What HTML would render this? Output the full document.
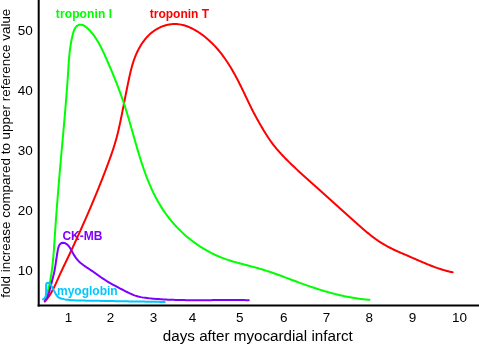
<!DOCTYPE html>
<html><head><meta charset="utf-8"><style>
html,body{margin:0;padding:0;background:#fff;}
body{width:479px;height:345px;overflow:hidden;}
svg{display:block;}
text{font-family:"Liberation Sans", Arial, Helvetica, sans-serif;}
</style></head><body>
<svg width="479" height="345" viewBox="0 0 479 345">
<rect width="479" height="345" fill="#fff"/>
<g font-size="13.5" fill="#000">
<text x="68.4" y="322" text-anchor="middle">1</text>
<text x="110.5" y="322" text-anchor="middle">2</text>
<text x="153.5" y="322" text-anchor="middle">3</text>
<text x="192.5" y="322" text-anchor="middle">4</text>
<text x="239.8" y="322" text-anchor="middle">5</text>
<text x="283.7" y="322" text-anchor="middle">6</text>
<text x="326.5" y="322" text-anchor="middle">7</text>
<text x="369.2" y="322" text-anchor="middle">8</text>
<text x="412.5" y="322" text-anchor="middle">9</text>
<text x="459.5" y="322" text-anchor="middle">10</text>
<text x="32.8" y="34.7" text-anchor="end">50</text>
<text x="32.8" y="94.8" text-anchor="end">40</text>
<text x="32.8" y="154.8" text-anchor="end">30</text>
<text x="32.8" y="214.8" text-anchor="end">20</text>
<text x="32.8" y="274.8" text-anchor="end">10</text>
</g>
<text x="257.8" y="341" font-size="15.2" text-anchor="middle">days after myocardial infarct</text>
<text transform="translate(9.7 153.2) rotate(-90)" font-size="13.45" text-anchor="middle">fold increase compared to upper reference value</text>
<g font-size="12" font-weight="bold">
<text x="55.8" y="18.2" fill="#00ff00" letter-spacing="0.12">troponin I</text>
<text x="149.8" y="18.2" fill="#ff0000">troponin T</text>
<text x="62.4" y="239.5" fill="#8000ff">CK-MB</text>
<text x="57" y="294.8" fill="#00c8ff">myoglobin</text>
</g>
<g fill="none" stroke-width="2" stroke-linecap="round" stroke-linejoin="round">
<path d="M44.88 301.47 L45.87 300.35 L46.82 299.20 L47.72 298.03 L48.59 296.83 L49.42 295.61 L50.22 294.36 L50.99 293.10 L51.73 291.81 L52.44 290.51 L53.14 289.19 L53.81 287.86 L54.47 286.52 L55.11 285.17 L55.74 283.81 L56.36 282.44 L56.98 281.07 L57.59 279.69 L58.20 278.32 L58.81 276.94 L59.42 275.57 L60.04 274.20 L60.67 272.83 L61.30 271.47 L61.94 270.11 L62.58 268.75 L63.22 267.40 L63.87 266.05 L64.52 264.70 L65.17 263.35 L65.82 262.00 L66.47 260.65 L67.12 259.30 L67.77 257.95 L68.41 256.59 L69.05 255.24 L69.70 253.89 L70.33 252.53 L70.97 251.18 L71.60 249.82 L72.24 248.46 L72.87 247.11 L73.49 245.75 L74.12 244.39 L74.75 243.03 L75.37 241.66 L75.99 240.30 L76.61 238.94 L77.23 237.58 L77.85 236.21 L78.47 234.85 L79.09 233.48 L79.70 232.12 L80.32 230.75 L80.93 229.38 L81.54 228.01 L82.15 226.64 L82.76 225.27 L83.37 223.90 L83.98 222.53 L84.58 221.16 L85.19 219.79 L85.79 218.42 L86.39 217.04 L86.99 215.67 L87.58 214.29 L88.18 212.92 L88.77 211.54 L89.37 210.16 L89.96 208.79 L90.55 207.41 L91.13 206.03 L91.72 204.65 L92.30 203.26 L92.89 201.88 L93.47 200.50 L94.04 199.12 L94.62 197.73 L95.20 196.35 L95.77 194.96 L96.34 193.57 L96.91 192.19 L97.47 190.80 L98.04 189.41 L98.60 188.02 L99.16 186.63 L99.72 185.23 L100.28 183.84 L100.83 182.45 L101.38 181.05 L101.93 179.66 L102.48 178.26 L103.02 176.87 L103.57 175.47 L104.11 174.07 L104.65 172.67 L105.18 171.27 L105.71 169.87 L106.24 168.46 L106.77 167.06 L107.30 165.66 L107.82 164.25 L108.34 162.85 L108.86 161.44 L109.37 160.03 L109.88 158.62 L110.39 157.21 L110.89 155.80 L111.38 154.38 L111.87 152.97 L112.35 151.55 L112.83 150.13 L113.30 148.71 L113.76 147.28 L114.21 145.86 L114.65 144.43 L115.09 143.00 L115.51 141.56 L115.93 140.13 L116.33 138.69 L116.73 137.25 L117.11 135.80 L117.48 134.36 L117.84 132.91 L118.19 131.45 L118.53 130.00 L118.87 128.54 L119.19 127.08 L119.51 125.62 L119.83 124.16 L120.14 122.69 L120.45 121.22 L120.75 119.76 L121.05 118.29 L121.35 116.81 L121.65 115.34 L121.94 113.87 L122.24 112.39 L122.53 110.92 L122.82 109.44 L123.11 107.96 L123.41 106.49 L123.70 105.01 L123.99 103.53 L124.28 102.05 L124.57 100.57 L124.86 99.10 L125.15 97.62 L125.44 96.14 L125.73 94.67 L126.02 93.19 L126.32 91.72 L126.61 90.25 L126.91 88.78 L127.21 87.31 L127.51 85.84 L127.81 84.37 L128.11 82.91 L128.42 81.45 L128.73 79.99 L129.04 78.54 L129.35 77.08 L129.67 75.63 L130.00 74.18 L130.34 72.74 L130.68 71.30 L131.04 69.86 L131.41 68.43 L131.79 66.99 L132.20 65.57 L132.61 64.14 L133.05 62.72 L133.51 61.31 L133.99 59.89 L134.50 58.48 L135.03 57.08 L135.59 55.68 L136.18 54.28 L136.80 52.90 L137.45 51.52 L138.12 50.15 L138.83 48.80 L139.56 47.46 L140.33 46.13 L141.13 44.83 L141.95 43.55 L142.81 42.29 L143.70 41.06 L144.62 39.86 L145.57 38.68 L146.56 37.54 L147.58 36.43 L148.63 35.35 L149.71 34.32 L150.82 33.32 L151.97 32.36 L153.16 31.45 L154.37 30.59 L155.62 29.77 L156.90 29.00 L158.21 28.28 L159.54 27.61 L160.90 26.99 L162.27 26.43 L163.67 25.93 L165.08 25.48 L166.51 25.08 L167.95 24.75 L169.40 24.48 L170.86 24.27 L172.33 24.12 L173.79 24.04 L175.26 24.03 L176.73 24.08 L178.19 24.20 L179.65 24.38 L181.11 24.64 L182.55 24.95 L183.99 25.33 L185.42 25.76 L186.84 26.25 L188.24 26.79 L189.64 27.37 L191.02 28.00 L192.39 28.67 L193.74 29.38 L195.08 30.12 L196.40 30.90 L197.70 31.70 L198.99 32.53 L200.25 33.38 L201.49 34.26 L202.72 35.15 L203.92 36.06 L205.10 36.99 L206.27 37.94 L207.42 38.91 L208.55 39.90 L209.66 40.91 L210.75 41.93 L211.82 42.97 L212.88 44.02 L213.92 45.09 L214.95 46.18 L215.95 47.28 L216.95 48.39 L217.92 49.52 L218.88 50.66 L219.83 51.82 L220.76 52.99 L221.68 54.17 L222.58 55.36 L223.47 56.56 L224.34 57.77 L225.20 58.99 L226.05 60.22 L226.89 61.46 L227.71 62.71 L228.52 63.97 L229.32 65.24 L230.11 66.51 L230.89 67.79 L231.66 69.08 L232.42 70.37 L233.16 71.67 L233.90 72.98 L234.63 74.29 L235.35 75.60 L236.07 76.92 L236.77 78.25 L237.47 79.58 L238.16 80.91 L238.84 82.25 L239.52 83.59 L240.20 84.93 L240.86 86.27 L241.53 87.62 L242.18 88.97 L242.84 90.32 L243.49 91.67 L244.14 93.02 L244.78 94.37 L245.43 95.72 L246.07 97.07 L246.71 98.42 L247.35 99.77 L248.00 101.12 L248.64 102.47 L249.29 103.82 L249.95 105.16 L250.60 106.50 L251.26 107.84 L251.93 109.18 L252.61 110.52 L253.29 111.85 L253.97 113.18 L254.67 114.50 L255.38 115.82 L256.09 117.14 L256.81 118.46 L257.54 119.77 L258.27 121.08 L259.01 122.38 L259.76 123.69 L260.51 124.99 L261.26 126.29 L262.02 127.58 L262.78 128.87 L263.55 130.16 L264.32 131.45 L265.11 132.73 L265.90 134.00 L266.70 135.26 L267.51 136.52 L268.33 137.77 L269.17 139.01 L270.01 140.24 L270.87 141.46 L271.75 142.67 L272.64 143.86 L273.55 145.04 L274.47 146.21 L275.41 147.37 L276.36 148.52 L277.32 149.66 L278.30 150.78 L279.29 151.90 L280.29 153.01 L281.30 154.11 L282.31 155.20 L283.34 156.28 L284.38 157.36 L285.42 158.43 L286.47 159.49 L287.53 160.55 L288.59 161.61 L289.65 162.66 L290.73 163.70 L291.80 164.74 L292.88 165.78 L293.97 166.81 L295.06 167.84 L296.16 168.86 L297.25 169.88 L298.35 170.90 L299.46 171.92 L300.57 172.93 L301.68 173.94 L302.79 174.95 L303.90 175.95 L305.02 176.96 L306.14 177.96 L307.26 178.96 L308.38 179.96 L309.50 180.96 L310.62 181.95 L311.74 182.95 L312.87 183.95 L313.99 184.95 L315.11 185.94 L316.23 186.94 L317.35 187.94 L318.47 188.94 L319.58 189.94 L320.70 190.94 L321.81 191.94 L322.93 192.94 L324.04 193.94 L325.15 194.94 L326.26 195.95 L327.37 196.95 L328.48 197.95 L329.59 198.96 L330.70 199.96 L331.81 200.97 L332.92 201.97 L334.02 202.98 L335.13 203.98 L336.24 204.99 L337.35 205.99 L338.46 207.00 L339.57 208.01 L340.67 209.01 L341.78 210.02 L342.89 211.02 L344.00 212.03 L345.12 213.03 L346.23 214.03 L347.34 215.04 L348.46 216.04 L349.57 217.04 L350.69 218.04 L351.80 219.05 L352.92 220.05 L354.04 221.05 L355.17 222.05 L356.29 223.04 L357.41 224.04 L358.54 225.04 L359.67 226.03 L360.80 227.03 L361.94 228.01 L363.07 229.00 L364.22 229.98 L365.37 230.95 L366.52 231.91 L367.68 232.87 L368.84 233.82 L370.01 234.76 L371.19 235.69 L372.38 236.60 L373.57 237.51 L374.77 238.40 L375.98 239.27 L377.21 240.13 L378.44 240.97 L379.68 241.80 L380.93 242.61 L382.20 243.40 L383.47 244.17 L384.76 244.92 L386.06 245.66 L387.37 246.37 L388.69 247.07 L390.01 247.76 L391.35 248.43 L392.69 249.09 L394.04 249.73 L395.40 250.37 L396.76 251.00 L398.12 251.61 L399.49 252.22 L400.86 252.83 L402.24 253.43 L403.62 254.02 L405.00 254.61 L406.38 255.20 L407.76 255.79 L409.14 256.38 L410.52 256.97 L411.90 257.57 L413.28 258.16 L414.65 258.76 L416.03 259.36 L417.40 259.96 L418.78 260.56 L420.15 261.16 L421.53 261.75 L422.91 262.34 L424.29 262.93 L425.67 263.51 L427.05 264.08 L428.43 264.65 L429.82 265.21 L431.21 265.76 L432.61 266.30 L434.01 266.83 L435.41 267.35 L436.82 267.85 L438.23 268.34 L439.65 268.82 L441.07 269.28 L442.50 269.73 L443.94 270.15 L445.38 270.56 L446.83 270.95 L448.29 271.32 L449.75 271.67 L451.23 272.00 L452.71 272.30" stroke="#ff0000"/>
<path d="M44.89 301.13 L45.37 299.70 L45.84 298.26 L46.28 296.83 L46.71 295.39 L47.13 293.94 L47.52 292.50 L47.91 291.05 L48.27 289.59 L48.62 288.14 L48.96 286.68 L49.28 285.22 L49.59 283.76 L49.88 282.29 L50.17 280.83 L50.44 279.36 L50.70 277.88 L50.94 276.41 L51.18 274.93 L51.40 273.46 L51.62 271.98 L51.82 270.49 L52.02 269.01 L52.20 267.53 L52.38 266.04 L52.55 264.55 L52.71 263.06 L52.87 261.57 L53.02 260.08 L53.16 258.59 L53.30 257.10 L53.43 255.60 L53.55 254.11 L53.67 252.61 L53.79 251.11 L53.90 249.62 L54.01 248.12 L54.12 246.62 L54.22 245.12 L54.33 243.63 L54.43 242.13 L54.53 240.63 L54.62 239.13 L54.72 237.63 L54.82 236.14 L54.92 234.64 L55.02 233.14 L55.12 231.64 L55.22 230.15 L55.32 228.65 L55.43 227.16 L55.53 225.66 L55.64 224.17 L55.74 222.67 L55.85 221.18 L55.96 219.68 L56.06 218.19 L56.17 216.70 L56.28 215.20 L56.39 213.71 L56.51 212.22 L56.62 210.72 L56.73 209.23 L56.84 207.74 L56.96 206.25 L57.07 204.75 L57.19 203.26 L57.31 201.77 L57.42 200.28 L57.54 198.79 L57.66 197.30 L57.78 195.80 L57.90 194.31 L58.02 192.82 L58.14 191.33 L58.26 189.84 L58.39 188.35 L58.51 186.86 L58.63 185.37 L58.76 183.87 L58.88 182.38 L59.01 180.89 L59.14 179.40 L59.26 177.91 L59.39 176.42 L59.52 174.92 L59.65 173.43 L59.77 171.94 L59.90 170.45 L60.03 168.95 L60.16 167.46 L60.29 165.97 L60.42 164.47 L60.56 162.98 L60.69 161.49 L60.82 159.99 L60.95 158.50 L61.09 157.00 L61.22 155.51 L61.35 154.01 L61.49 152.52 L61.62 151.02 L61.76 149.53 L61.89 148.03 L62.03 146.53 L62.16 145.04 L62.30 143.54 L62.43 142.05 L62.57 140.55 L62.70 139.05 L62.84 137.55 L62.97 136.06 L63.11 134.56 L63.24 133.06 L63.38 131.57 L63.51 130.07 L63.64 128.57 L63.78 127.08 L63.91 125.58 L64.04 124.08 L64.17 122.59 L64.31 121.09 L64.44 119.59 L64.57 118.10 L64.70 116.60 L64.83 115.10 L64.96 113.61 L65.08 112.11 L65.21 110.62 L65.34 109.12 L65.46 107.63 L65.59 106.13 L65.71 104.64 L65.84 103.14 L65.96 101.65 L66.08 100.16 L66.20 98.66 L66.32 97.17 L66.44 95.68 L66.55 94.19 L66.67 92.69 L66.78 91.20 L66.90 89.71 L67.01 88.22 L67.12 86.73 L67.23 85.24 L67.34 83.75 L67.44 82.27 L67.55 80.78 L67.65 79.29 L67.75 77.80 L67.85 76.32 L67.95 74.83 L68.05 73.35 L68.14 71.86 L68.24 70.38 L68.33 68.89 L68.43 67.41 L68.52 65.93 L68.62 64.45 L68.72 62.96 L68.82 61.48 L68.94 59.99 L69.06 58.51 L69.18 57.02 L69.32 55.53 L69.46 54.04 L69.62 52.54 L69.79 51.05 L69.98 49.55 L70.17 48.05 L70.39 46.55 L70.62 45.04 L70.87 43.53 L71.14 42.02 L71.43 40.50 L71.74 38.98 L72.07 37.46 L72.42 35.93 L72.80 34.39 L73.22 32.86 L73.68 31.36 L74.21 29.93 L74.83 28.61 L75.56 27.42 L76.43 26.40 L77.45 25.59 L78.64 25.03 L79.93 24.73 L81.26 24.72 L82.56 25.01 L83.83 25.54 L85.07 26.28 L86.27 27.19 L87.44 28.21 L88.57 29.31 L89.66 30.45 L90.71 31.61 L91.72 32.78 L92.69 33.98 L93.63 35.20 L94.53 36.43 L95.40 37.68 L96.24 38.94 L97.06 40.22 L97.85 41.51 L98.61 42.82 L99.35 44.13 L100.07 45.45 L100.76 46.79 L101.44 48.13 L102.11 49.48 L102.76 50.83 L103.40 52.19 L104.03 53.56 L104.65 54.92 L105.26 56.29 L105.86 57.66 L106.47 59.03 L107.07 60.40 L107.66 61.77 L108.26 63.14 L108.85 64.51 L109.44 65.88 L110.03 67.24 L110.61 68.61 L111.19 69.98 L111.76 71.35 L112.34 72.72 L112.91 74.10 L113.47 75.47 L114.03 76.84 L114.59 78.22 L115.14 79.59 L115.69 80.97 L116.24 82.35 L116.78 83.73 L117.32 85.11 L117.85 86.49 L118.38 87.88 L118.91 89.27 L119.43 90.66 L119.94 92.05 L120.45 93.44 L120.96 94.84 L121.46 96.24 L121.95 97.64 L122.44 99.05 L122.93 100.46 L123.41 101.87 L123.88 103.29 L124.35 104.71 L124.82 106.13 L125.27 107.56 L125.73 108.98 L126.18 110.42 L126.62 111.85 L127.06 113.29 L127.50 114.73 L127.93 116.17 L128.36 117.62 L128.79 119.06 L129.21 120.51 L129.64 121.96 L130.06 123.41 L130.47 124.87 L130.89 126.32 L131.31 127.78 L131.72 129.23 L132.13 130.69 L132.55 132.15 L132.96 133.61 L133.37 135.07 L133.78 136.52 L134.20 137.98 L134.61 139.44 L135.03 140.90 L135.44 142.36 L135.86 143.81 L136.28 145.27 L136.70 146.73 L137.13 148.18 L137.56 149.63 L137.99 151.08 L138.42 152.53 L138.86 153.98 L139.30 155.43 L139.74 156.87 L140.19 158.31 L140.64 159.75 L141.10 161.19 L141.57 162.62 L142.04 164.05 L142.51 165.48 L142.99 166.91 L143.48 168.33 L143.97 169.75 L144.47 171.16 L144.98 172.57 L145.49 173.98 L146.01 175.38 L146.54 176.78 L147.08 178.17 L147.62 179.56 L148.18 180.94 L148.74 182.32 L149.31 183.70 L149.90 185.07 L150.49 186.43 L151.09 187.79 L151.70 189.14 L152.32 190.49 L152.95 191.83 L153.60 193.16 L154.25 194.49 L154.92 195.81 L155.60 197.12 L156.29 198.43 L156.99 199.73 L157.71 201.03 L158.44 202.31 L159.18 203.59 L159.93 204.86 L160.70 206.13 L161.48 207.38 L162.28 208.63 L163.09 209.87 L163.92 211.10 L164.76 212.32 L165.62 213.53 L166.49 214.74 L167.37 215.93 L168.28 217.12 L169.19 218.30 L170.13 219.46 L171.07 220.62 L172.03 221.77 L173.01 222.90 L174.00 224.03 L175.00 225.14 L176.02 226.25 L177.05 227.34 L178.09 228.42 L179.15 229.49 L180.22 230.55 L181.30 231.60 L182.39 232.63 L183.50 233.65 L184.62 234.66 L185.75 235.66 L186.89 236.64 L188.05 237.61 L189.21 238.57 L190.39 239.51 L191.58 240.44 L192.78 241.36 L193.99 242.26 L195.21 243.15 L196.44 244.02 L197.68 244.88 L198.93 245.72 L200.19 246.55 L201.46 247.36 L202.73 248.16 L204.02 248.94 L205.32 249.71 L206.62 250.45 L207.94 251.19 L209.26 251.90 L210.59 252.60 L211.93 253.28 L213.28 253.95 L214.63 254.60 L215.99 255.23 L217.36 255.84 L218.74 256.43 L220.12 257.01 L221.51 257.56 L222.90 258.10 L224.31 258.62 L225.71 259.13 L227.13 259.61 L228.55 260.08 L229.97 260.54 L231.40 260.99 L232.83 261.42 L234.27 261.84 L235.70 262.25 L237.15 262.66 L238.59 263.06 L240.04 263.45 L241.48 263.83 L242.93 264.21 L244.38 264.59 L245.84 264.97 L247.29 265.34 L248.74 265.72 L250.19 266.10 L251.64 266.48 L253.09 266.86 L254.53 267.25 L255.98 267.64 L257.42 268.04 L258.86 268.45 L260.30 268.86 L261.73 269.29 L263.16 269.73 L264.59 270.17 L266.02 270.63 L267.44 271.09 L268.86 271.56 L270.27 272.04 L271.69 272.52 L273.10 273.01 L274.51 273.50 L275.92 274.00 L277.33 274.51 L278.74 275.02 L280.14 275.53 L281.55 276.05 L282.95 276.56 L284.35 277.09 L285.76 277.61 L287.16 278.13 L288.56 278.66 L289.96 279.19 L291.37 279.71 L292.77 280.24 L294.17 280.76 L295.58 281.29 L296.99 281.81 L298.39 282.33 L299.80 282.84 L301.21 283.36 L302.62 283.87 L304.04 284.37 L305.45 284.88 L306.87 285.37 L308.29 285.87 L309.71 286.36 L311.13 286.84 L312.55 287.32 L313.97 287.80 L315.40 288.26 L316.83 288.73 L318.26 289.18 L319.69 289.63 L321.12 290.08 L322.56 290.52 L324.00 290.95 L325.43 291.37 L326.87 291.79 L328.32 292.20 L329.76 292.60 L331.21 293.00 L332.65 293.38 L334.10 293.76 L335.56 294.13 L337.01 294.49 L338.46 294.84 L339.92 295.19 L341.38 295.52 L342.84 295.84 L344.31 296.16 L345.77 296.46 L347.24 296.75 L348.71 297.04 L350.18 297.31 L351.65 297.57 L353.13 297.82 L354.60 298.06 L356.08 298.29 L357.56 298.51 L359.05 298.71 L360.53 298.90 L362.02 299.08 L363.51 299.25 L365.00 299.40 L366.50 299.54 L367.99 299.67 L369.49 299.78" stroke="#00ff00"/>
<path d="M44.66 301.15 L45.62 299.97 L46.45 298.73 L47.17 297.44 L47.79 296.11 L48.32 294.73 L48.79 293.33 L49.21 291.90 L49.59 290.45 L49.96 288.99 L50.32 287.52 L50.69 286.05 L51.07 284.58 L51.46 283.12 L51.86 281.65 L52.25 280.19 L52.64 278.72 L53.02 277.26 L53.39 275.80 L53.74 274.35 L54.06 272.89 L54.36 271.44 L54.64 269.99 L54.91 268.53 L55.15 267.08 L55.39 265.63 L55.61 264.17 L55.83 262.70 L56.05 261.23 L56.27 259.75 L56.49 258.27 L56.71 256.78 L56.94 255.27 L57.19 253.75 L57.45 252.23 L57.72 250.68 L58.02 249.13 L58.38 247.60 L58.84 246.16 L59.47 244.87 L60.34 243.81 L61.47 243.06 L62.81 242.72 L64.24 242.90 L65.65 243.50 L66.94 244.35 L68.06 245.36 L69.03 246.50 L69.89 247.75 L70.67 249.05 L71.41 250.40 L72.13 251.75 L72.87 253.09 L73.63 254.40 L74.42 255.67 L75.25 256.92 L76.12 258.12 L77.03 259.27 L78.00 260.38 L79.03 261.44 L80.11 262.44 L81.24 263.41 L82.40 264.33 L83.60 265.23 L84.83 266.10 L86.08 266.96 L87.33 267.80 L88.60 268.64 L89.86 269.48 L91.12 270.33 L92.36 271.18 L93.60 272.04 L94.82 272.91 L96.04 273.79 L97.26 274.66 L98.48 275.52 L99.70 276.39 L100.92 277.24 L102.15 278.08 L103.39 278.90 L104.65 279.71 L105.91 280.51 L107.18 281.29 L108.46 282.06 L109.75 282.81 L111.04 283.56 L112.34 284.30 L113.65 285.02 L114.97 285.74 L116.29 286.45 L117.61 287.16 L118.94 287.86 L120.28 288.56 L121.62 289.25 L122.96 289.94 L124.30 290.62 L125.65 291.31 L127.00 291.99 L128.35 292.66 L129.71 293.31 L131.08 293.93 L132.45 294.53 L133.84 295.08 L135.25 295.58 L136.67 296.03 L138.10 296.44 L139.54 296.79 L141.00 297.11 L142.47 297.39 L143.94 297.63 L145.42 297.85 L146.91 298.04 L148.40 298.21 L149.90 298.37 L151.40 298.51 L152.89 298.64 L154.39 298.77 L155.89 298.89 L157.39 299.00 L158.88 299.11 L160.38 299.21 L161.88 299.31 L163.38 299.40 L164.87 299.48 L166.37 299.56 L167.87 299.63 L169.37 299.70 L170.87 299.76 L172.36 299.81 L173.86 299.87 L175.36 299.91 L176.86 299.96 L178.36 300.00 L179.85 300.03 L181.35 300.06 L182.85 300.09 L184.35 300.11 L185.85 300.13 L187.35 300.15 L188.84 300.16 L190.34 300.18 L191.84 300.18 L193.34 300.19 L194.84 300.19 L196.34 300.20 L197.83 300.20 L199.33 300.19 L200.83 300.19 L202.33 300.18 L203.83 300.18 L205.33 300.17 L206.83 300.16 L208.33 300.15 L209.82 300.14 L211.32 300.13 L212.82 300.12 L214.32 300.11 L215.82 300.10 L217.32 300.09 L218.82 300.07 L220.32 300.06 L221.82 300.06 L223.31 300.05 L224.81 300.04 L226.31 300.03 L227.81 300.03 L229.31 300.03 L230.81 300.03 L232.31 300.03 L233.81 300.03 L235.31 300.03 L236.81 300.04 L238.31 300.05 L239.80 300.06 L241.30 300.08 L242.80 300.10 L244.30 300.12 L245.80 300.15 L247.30 300.18 L248.80 300.21" stroke="#8000ff"/>
<path d="M42.99 299.42 L44.26 298.52 L45.13 297.37 L45.67 296.04 L45.95 294.58 L46.07 293.06 L46.09 291.53 L46.10 290.04 L46.11 288.60 L46.11 287.14 L46.09 285.63 L46.15 284.07 L46.91 282.96 L48.44 282.85 L49.77 283.34 L50.61 284.55 L51.38 285.83 L52.09 287.14 L52.78 288.46 L53.46 289.78 L54.16 291.09 L54.88 292.38 L55.63 293.66 L56.41 294.94 L57.26 296.18 L58.26 297.24 L59.52 297.99 L60.96 298.46 L62.44 298.82 L63.89 299.14 L65.33 299.41 L66.79 299.64 L68.26 299.83 L69.74 299.99 L71.22 300.13 L72.71 300.24 L74.19 300.33 L75.67 300.40 L77.16 300.46 L78.64 300.51 L80.13 300.55 L81.61 300.58 L83.10 300.60 L84.58 300.62 L86.07 300.65 L87.55 300.67 L89.04 300.69 L90.52 300.71 L92.01 300.74 L93.49 300.76 L94.98 300.79 L96.47 300.81 L97.95 300.84 L99.44 300.86 L100.92 300.89 L102.41 300.92 L103.89 300.94 L105.38 300.97 L106.87 300.99 L108.35 301.02 L109.84 301.05 L111.32 301.07 L112.81 301.10 L114.29 301.12 L115.78 301.15 L117.26 301.18 L118.75 301.20 L120.24 301.23 L121.72 301.25 L123.21 301.28 L124.69 301.30 L126.18 301.33 L127.66 301.35 L129.15 301.38 L130.63 301.40 L132.12 301.42 L133.61 301.45 L135.09 301.47 L136.58 301.50 L138.06 301.52 L139.55 301.55 L141.03 301.57 L142.52 301.59 L144.00 301.62 L145.49 301.64 L146.97 301.67 L148.46 301.69 L149.94 301.71 L151.43 301.74 L152.92 301.76 L154.40 301.78 L155.89 301.81 L157.37 301.83 L158.86 301.85 L160.34 301.88 L161.83 301.90 L163.31 301.92 L164.80 301.95" stroke="#00c8ff"/>
</g>
<g stroke="#000" stroke-width="2" fill="none">
<line x1="38.7" y1="0" x2="38.7" y2="306.5"/>
<line x1="37.7" y1="305.5" x2="479" y2="305.5"/>
</g>
</svg>
</body></html>
